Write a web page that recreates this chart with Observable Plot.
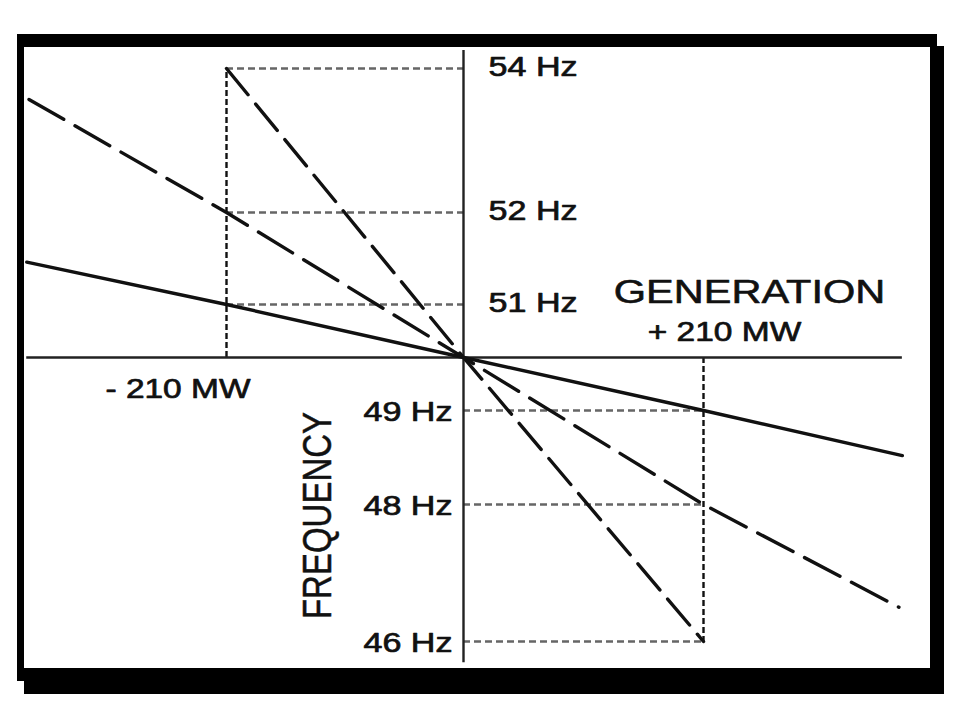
<!DOCTYPE html>
<html>
<head>
<meta charset="utf-8">
<script src="https://cdn.jsdelivr.net/npm/d3@7"></script>
<script src="https://cdn.jsdelivr.net/npm/@observablehq/plot@0.6"></script>
<style>
  html, body { margin: 0; padding: 0; background: #fff; }
  #page { position: relative; width: 960px; height: 720px; overflow: hidden; }
  .shadow { position: absolute; left: 24px; top: 46px; width: 920px; height: 648px; background: #000; }
  .frame  { position: absolute; left: 17px; top: 34px; width: 920px; height: 647px; background: #000; }
  .inner  { position: absolute; left: 24px; top: 47px; width: 906px; height: 621px; background: #fff; }
  #chart  { position: absolute; left: 0; top: 0; }
</style>
</head>
<body>
<div id="page">
  <div class="shadow"></div>
  <div class="frame"></div>
  <div class="inner"></div>
  <div id="chart"></div>
</div>
<script>
// ---- data ----
const nominalHz = 50;
const genMW = 210;                         // ± 210 MW step
const freqTicks = [54, 52, 51, 49, 48, 46]; // labelled frequencies (Hz)
// piecewise (schematic) frequency positions of the drawing
const yDomainHz = [46, 48, 49, 50, 51, 52, 54];
const xDomainMW = [-210, 0, 210];

// droop characteristics: MW vs Hz
const solidMW  = [-387, -210, 0, 210, 384];
const solidHz  = [51.46, 51, 50, 49, 48.52];
const mediumMW = [-385, -210, 0, 210, 381];
const mediumHz = [53.57, 52, 50, 48, 46.5];
const steepMW  = [-210, 0, 210];
const steepHz  = [54, 50, 46];

// axis extents
const axisMW = [-387, 384];
const axisHz = [45.69, 54.25];

const toRows = (xs, ys) => xs.map((x, i) => ({mw: x, hz: ys[i]}));
const solid = toRows(solidMW, solidHz);
const medium = toRows(mediumMW, mediumHz);
const steep = toRows(steepMW, steepHz);

const font = "'Liberation Sans', Arial, sans-serif";
const SX = 1.24; // horizontal stretch of the original drawing's lettering

const plot = Plot.plot({
  width: 960,
  height: 720,
  margin: 0,
  style: {background: "transparent", fontFamily: font, overflow: "visible"},
  x: {type: "linear", domain: xDomainMW, range: [226, 463, 703], axis: null},
  y: {type: "linear", domain: yDomainHz, range: [641, 504, 410, 357, 304, 212, 68], axis: null},
  marks: [
    // horizontal guide lines from the frequency axis to the droop intersections
    Plot.ruleY(freqTicks, {
      y: d => d,
      x1: d => d > nominalHz ? -genMW : 0,
      x2: d => d > nominalHz ? 0 : genMW,
      stroke: "#666", strokeWidth: 2.6, strokeDasharray: "7,4"
    }),
    // vertical guides at ± 210 MW
    Plot.ruleX([-genMW], {x: d => d, y1: nominalHz, y2: d3.max(freqTicks), stroke: "#111", strokeWidth: 2.4, strokeDasharray: "6,3"}),
    Plot.ruleX([genMW], {x: d => d, y1: nominalHz, y2: d3.min(freqTicks), stroke: "#111", strokeWidth: 2.4, strokeDasharray: "6,3"}),
    // axes
    Plot.ruleY([nominalHz], {y: d => d, x1: axisMW[0], x2: axisMW[1], stroke: "#222", strokeWidth: 2.4}),
    Plot.ruleX([0], {x: d => d, y1: axisHz[0], y2: axisHz[1], stroke: "#222", strokeWidth: 2.4}),
    // droop lines
    Plot.line(solid, {x: "mw", y: "hz", stroke: "#111", strokeWidth: 3.4}),
    Plot.line(medium, {x: "mw", y: "hz", stroke: "#111", strokeWidth: 3.4, strokeDasharray: "40,13"}),
    Plot.line(steep, {x: "mw", y: "hz", stroke: "#111", strokeWidth: 3.4, strokeDasharray: "34,12"}),
    // frequency labels
    Plot.text(freqTicks.filter(f => f > nominalHz), {
      x: () => 0, y: d => d, text: d => `${d} Hz`, textAnchor: "start", dx: 25, dy: -1,
      fontSize: 27.5, fill: "#111", stroke: "#111", strokeWidth: 0.7
    }),
    Plot.text(freqTicks.filter(f => f < nominalHz), {
      x: () => 0, y: d => d, text: d => `${d} Hz`, textAnchor: "end", dx: -11, dy: 2,
      fontSize: 27.5, fill: "#111", stroke: "#111", strokeWidth: 0.7
    }),
    // MW labels
    Plot.text(["- 210 MW"], {x: () => -genMW, y: () => nominalHz, text: d => d, textAnchor: "end", dx: 24, dy: 32,
      fontSize: 27, fill: "#111", stroke: "#111", strokeWidth: 0.7}),
    Plot.text(["+ 210 MW"], {x: () => genMW, y: () => nominalHz, text: d => d, textAnchor: "middle", dx: 21, dy: -25,
      fontSize: 27, fill: "#111", stroke: "#111", strokeWidth: 0.7}),
    Plot.text(["GENERATION"], {x: () => genMW, y: () => nominalHz, text: d => d, textAnchor: "middle", dx: 46, dy: -65,
      fontSize: 33.5, fill: "#111", stroke: "#111", strokeWidth: 0.6}),
    Plot.text(["FREQUENCY"], {x: () => 0, y: () => nominalHz, text: d => d, textAnchor: "middle", rotate: -90, dx: -146, dy: 158,
      fontSize: 33, fill: "#111", stroke: "#111", strokeWidth: 0.4})
  ]
});

// stretch lettering horizontally like the original (text stays real text)
plot.querySelectorAll("text").forEach(t => {
  const tr = t.getAttribute("transform") || "";
  const m = tr.match(/translate\([^)]*\)/);
  if (m) {
    const rest = tr.replace(m[0], "");
    t.setAttribute("transform", `${m[0]} scale(${SX},1)${rest}`);
  } else {
    t.setAttribute("transform", `scale(${SX},1)`);
  }
});

document.getElementById("chart").appendChild(plot);
</script>
</body>
</html>
